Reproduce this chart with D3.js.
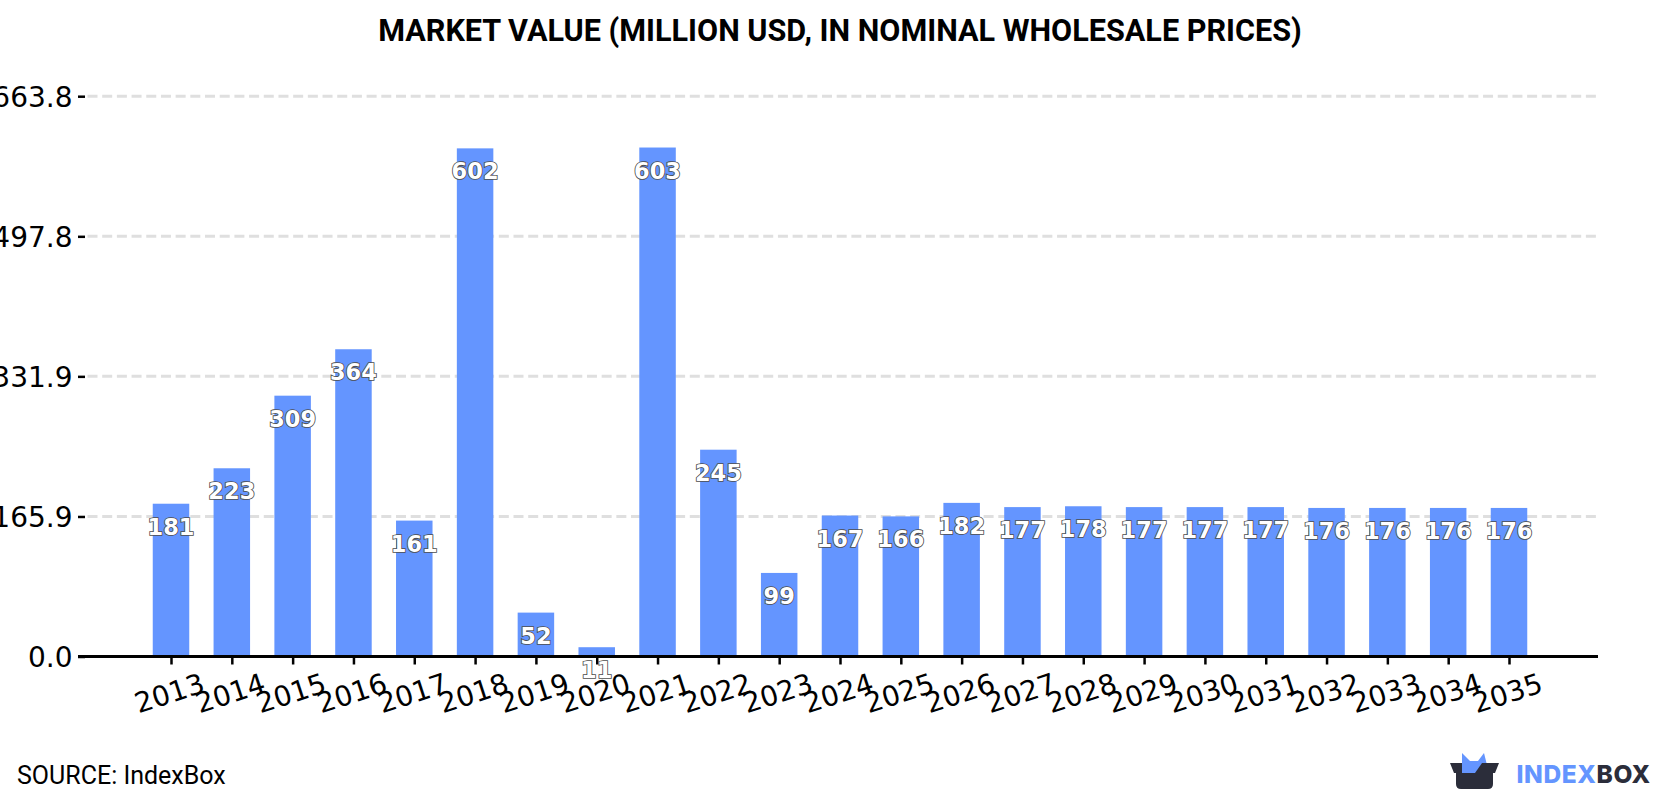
<!DOCTYPE html>
<html>
<head>
<meta charset="utf-8">
<script src="https://cdn.jsdelivr.net/npm/d3@7"></script>
<style>
  html, body { margin: 0; padding: 0; background: #fff; overflow: hidden; }
  svg { display: block; }
</style>
</head>
<body>
<svg id="chart" width="1680" height="800"></svg>
<script>
const years = [2013,2014,2015,2016,2017,2018,2019,2020,2021,2022,2023,2024,2025,2026,2027,2028,2029,2030,2031,2032,2033,2034,2035];
const marketValue = [181,223,309,364,161,602,52,11,603,245,99,167,166,182,177,178,177,177,177,176,176,176,176];
const yTicks = [0,165.9,331.9,497.8,663.8];
const titleText = "MARKET VALUE (MILLION USD, IN NOMINAL WHOLESALE PRICES)";
const sourceText = "SOURCE: IndexBox";

const svg = d3.select("#chart");
const plot = { left: 78, right: 1598, top: 96.2, bottom: 656.5 };
const barWidth = 36.5;

const x = d3.scalePoint().domain(years).range([171, 1509]);
const y = d3.scaleLinear().domain([0, 663.8]).range([plot.bottom, plot.top]);

svg.append("text")
  .attr("x", 840).attr("y", 41)
  .attr("text-anchor", "middle")
  .style("font", "700 30.6px Roboto")
  .style("fill", "#000")
  .text(titleText);

// Dashed horizontal guides sit below the bars
svg.append("g").selectAll("line")
  .data(yTicks.filter(d => d > 0))
  .join("line")
  .attr("x1", plot.left + 9.5).attr("x2", plot.right - 2)
  .attr("y1", d => y(d)).attr("y2", d => y(d))
  .attr("stroke", "#dfdfdf")
  .attr("stroke-width", 3)
  .attr("stroke-dasharray", "10,4.69");

svg.append("g").selectAll("rect")
  .data(years.map((year, i) => ({ year, value: marketValue[i] })))
  .join("rect")
  .attr("x", d => x(d.year) - barWidth / 2)
  .attr("width", barWidth)
  .attr("y", d => y(d.value))
  .attr("height", d => y(0) - y(d.value))
  .attr("fill", "#6495ff");

const yAxis = svg.append("g")
  .attr("transform", `translate(${plot.left},0)`)
  .call(d3.axisRight(y).tickValues(yTicks).tickFormat(d3.format(".1f")).tickSize(7).tickPadding(0));
yAxis.select(".domain").remove();
yAxis.selectAll(".tick line").attr("stroke", "#000").attr("stroke-width", 2.5);
yAxis.selectAll(".tick text")
  .attr("x", -5.5).attr("dy", "0.36em")
  .attr("text-anchor", "end")
  .style("font", "28px 'DejaVu Sans'")
  .style("fill", "#000");

const xAxis = svg.append("g")
  .attr("transform", `translate(0,${plot.bottom})`)
  .call(d3.axisBottom(x).tickFormat(d3.format("d")).tickSize(8).tickSizeOuter(0));
xAxis.select(".domain").remove();
xAxis.selectAll(".tick line").attr("stroke", "#000").attr("stroke-width", 2.5);
xAxis.selectAll(".tick text")
  .attr("y", 0).attr("dy", 0)
  .attr("text-anchor", "middle")
  .attr("transform", "translate(1,46) rotate(-18)")
  .style("font", "28px 'DejaVu Sans'")
  .style("fill", "#000");

svg.append("line")
  .attr("x1", plot.left).attr("x2", plot.right)
  .attr("y1", plot.bottom).attr("y2", plot.bottom)
  .attr("stroke", "#000").attr("stroke-width", 3);

// Value labels just inside each bar top
svg.append("g").selectAll("text")
  .data(years.map((year, i) => ({ year, value: marketValue[i] })))
  .join("text")
  .attr("x", d => x(d.year))
  .attr("y", d => y(d.value) + 31)
  .attr("text-anchor", "middle")
  .style("font", "700 22.5px 'DejaVu Sans'")
  .style("fill", "#fff")
  .style("stroke", "#4d4d4d")
  .style("stroke-width", 1.7)
  .style("paint-order", "stroke")
  .text(d => d.value);

svg.append("text")
  .attr("x", 17).attr("y", 784)
  .style("font", "25px Roboto")
  .style("fill", "#000")
  .text(sourceText);

// Brand mark: open box with a crown rising out of it
const logo = svg.append("g");
logo.append("path")
  .attr("d", "M1462,770 L1462,753 L1470,761 L1478,761 L1484,753 L1487,765 L1487,777 Z")
  .attr("fill", "#6495ff");
logo.append("path")
  .attr("d", "M1450,763 L1499,763 L1495,773 L1493,773 L1493,784 Q1493,789 1488,789 L1461,789 Q1456,789 1456,784 L1456,773 L1454,773 Z")
  .attr("fill", "#2b2d3a");
logo.append("path")
  .attr("d", "M1462,763 L1482,763 L1475,773 L1462,773 Z")
  .attr("fill", "#6495ff");
const brand = svg.append("text")
  .attr("x", 1516.5).attr("y", 783)
  .style("font", "800 24.5px Inter")
  .style("letter-spacing", "0.6px");
brand.append("tspan").attr("fill", "#6495ff").text("INDEX");
brand.append("tspan").attr("fill", "#2b2d3a").text("BOX");
</script>
</body>
</html>
